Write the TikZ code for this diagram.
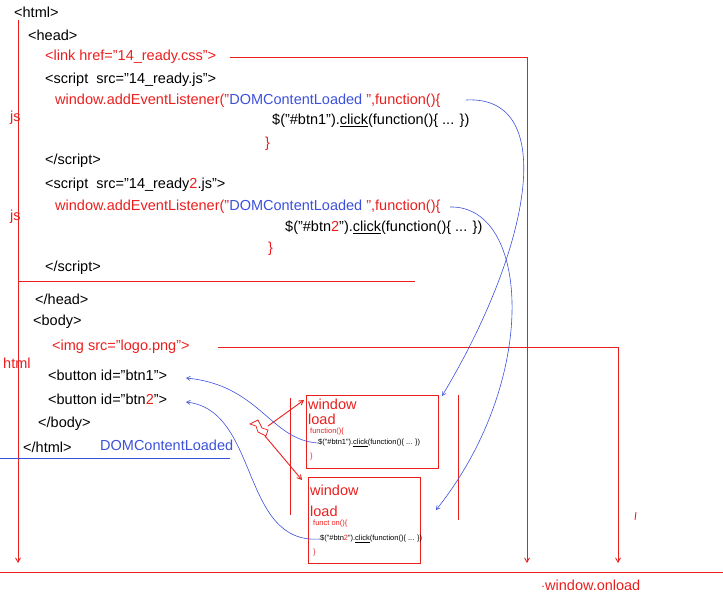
\documentclass[tikz,border=0pt]{standalone}
\usepackage{fontspec}
\setmainfont{Liberation Sans}
\usetikzlibrary{arrows}
\definecolor{rd}{RGB}{235,30,30}
\definecolor{bl}{RGB}{60,80,220}
\tikzset{
  txt/.style={anchor=west,inner sep=0pt,font=\fontsize{14.5}{16}\selectfont},
  small/.style={anchor=west,inner sep=0pt,font=\fontsize{7.5}{9}\selectfont},
  big/.style={anchor=west,inner sep=0pt,font=\fontsize{14.5}{16}\selectfont},
  redl/.style={draw=rd,line width=0.9pt,>=angle 60},
  bluel/.style={draw=bl,line width=0.6pt,>=angle 60},
  box/.style={draw=rd,line width=1pt,anchor=north west,minimum width=#1,inner sep=0pt}
}
\newcommand{\R}[1]{\textcolor{rd}{#1}}
\newcommand{\B}[1]{\textcolor{bl}{#1}}
\newcommand{\ck}{\underline{\textcolor{black}{click}}}
\begin{document}
\begin{tikzpicture}[x=1pt,y=-1pt]
 \useasboundingbox (0,0) rectangle (723,606);
 % code lines
 \node[txt] (html) at (14,12) {<html>};
 \node[txt] (head) at (28,35) {<head>};
 \node[txt] (link) at (45,57) {\R{<link href="14\_ready.css">}};
 \node[txt] (scr1) at (45,80) {<script \ src="14\_ready.js">};
 \node[txt] (ev1) at (55,101) {\R{window.addEventListener("}\B{ DOMContentLoaded }\R{",function()\{}};
 \node[txt] (cl1) at (272,121) {\$("\#btn1").\underline{click}(function()\{ ... \})};
 \node[txt] (br1) at (265,144) {\R{\}}};
 \node[txt] (es1) at (45,161) {</script>};
 \node[txt] (scr2) at (45,185) {<script \ src="14\_ready\R{2}.js">};
 \node[txt] (ev2) at (55,207) {\R{window.addEventListener("}\B{ DOMContentLoaded }\R{",function()\{}};
 \node[txt] (cl2) at (285,228) {\$("\#btn\R{2}").\underline{click}(function()\{ ... \})};
 \node[txt] (br2) at (268,249) {\R{\}}};
 \node[txt] (es2) at (45,268) {</script>};
 \node[txt] (ehead) at (35,299) {</head>};
 \node[txt] (body) at (33,322) {<body>};
 \node[txt] (img) at (52,347) {\R{<img src="logo.png">}};
 \node[txt] (btn1) at (48,375) {<button id="btn1">};
 \node[txt] (btn2) at (48,399) {<button id="btn\R{2}">};
 \node[txt] (ebody) at (38,424) {</body>};
 \node[txt] (ehtml) at (23,447) {</html>};
 \node[txt] (dcl) at (100,445) {\B{DOMContentLoaded}};
 \node[txt] (js1) at (10,118) {\R{js}};
 \node[txt] (js2) at (10,217) {\R{js}};
 \node[txt] (lhtml) at (3,363) {\R{html}};
 \node[txt] (onload) at (541,585) {\R{$\cdot$window.onload}};
 % boxes
 \node[box=132pt,minimum height=73pt] (wl1) at (306,395) {};
 \node[big] at (308,404) {\R{window}};
 \node[big] at (308,419) {\R{load}};
 \node[small] at (310,432) {\R{function()\{}};
 \node[small] (f1) at (318,443) {\$("\#btn1").\ck(function()\{ ... \})};
 \node[small] at (310,457) {\R{\}}};
 \node[box=112pt,minimum height=86pt] (wl2) at (308,477) {};
 \node[big] at (310,490) {\R{window}};
 \node[big] at (310,511) {\R{load}};
 \node[small] at (313,524) {\R{funct on()\{}};
 \node[small] (f2) at (320,539) {\$("\#btn\R{2}").\ck(function()\{ ... \})};
 \node[small] at (313,553) {\R{\}}};
 % red lines
 \coordinate (b1) at (18,563); \coordinate (b2) at (527,563); \coordinate (b3) at (618,563);
 \draw[redl,->] (18,20) -- (b1);
 \draw[redl] (230,57) -- (527,57);
 \draw[redl,->] (527,57) -- (b2);
 \draw[redl] (218,347) -- (618,347);
 \draw[redl,->] (618,347) -- (b3);
 \draw[redl] (18,281) -- (415,281);
 \draw[redl] (0,572) -- (723,572);
 \draw[redl] (290,398) -- (290,515);
 \draw[redl] (458,395) -- (458,520);
 \draw[redl] (636,512) -- (635,520);
 % lightning and red arrows
 \draw[redl,line width=0.7pt] (250,424) -- (258,420) -- (262,428) -- (268,430) -- (266,436) -- (258,432) -- (256,426) -- cycle;
 \draw[redl,->] (268,426) -- (304,400);
 \draw[redl,->] (265,436) -- (302,480);
 % blue curves
 \draw[bluel] (0,458) -- (230,458);
 \draw[bluel,->] (466,100) .. controls (560,95) and (530,250) .. (442,396);
 \draw[bluel,->] (450,207) .. controls (530,205) and (540,380) .. (436,510);
 \draw[bluel,->] (f1.west) .. controls (270,440) and (260,385) .. (186,378);
 \draw[bluel,->] (f2.west) .. controls (240,545) and (260,410) .. (186,402);
\end{tikzpicture}
\end{document}
